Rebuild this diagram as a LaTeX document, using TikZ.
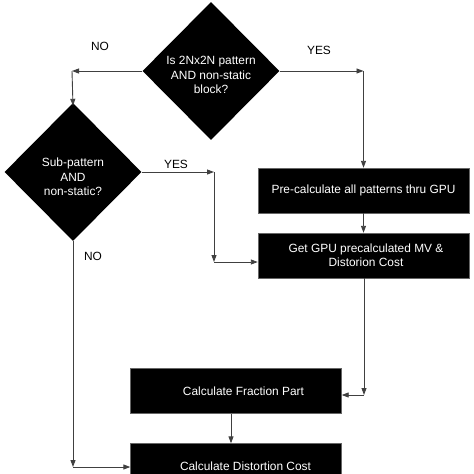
\documentclass[tikz,border=0pt]{standalone}
\usepackage{fontspec}
\setmainfont{Liberation Sans}
\usetikzlibrary{shapes.geometric,arrows.meta}
\begin{document}
\begin{tikzpicture}[x=1pt,y=-1pt,
  every node/.style={font=\fontsize{11.9}{14.3}\selectfont},
  dia/.style={diamond, fill=black, text=white, align=center, inner sep=0pt,
    minimum width=137pt, minimum height=138pt},
  procbox/.style={rectangle, fill=black, draw=black!60, line width=0.4pt, text=white, align=center,
    minimum width=211pt, minimum height=45pt, inner sep=0pt},
  lbl/.style={text=black},
  arr/.style={draw=black!75, line width=0.9pt, -{Triangle[length=7pt,width=5pt]}},
  ln/.style={draw=black!75, line width=0.9pt}]
\useasboundingbox (0,0) rectangle (474,474);
\fill[white] (0,0) rectangle (474,474);

\node[dia] (d1) at (211,71) {\rule{0pt}{16.5pt}Is 2Nx2N pattern\\AND non-static\\block?};
\node[dia] (d2) at (73,172) {\rule{0pt}{18.5pt}Sub-pattern\\AND\\non-static?};
\node[procbox] (b1) at (363.5,190.5) {Pre-calculate all patterns thru GPU};
\node[procbox] (b2) at (363.5,255.5) {\hspace*{5pt}Get GPU precalculated MV \&\\\hspace*{5pt}Distorion Cost};
\node[procbox] (b3) at (236,391) {\hspace*{15pt}Calculate Fraction Part};
\node[procbox] (b4) at (236,466) {\hspace*{19pt}Calculate Distortion Cost};

\node[lbl] (no1) at (100,46) {NO};
\node[lbl] (yes1) at (319,50) {YES};
\node[lbl] (yes2) at (176,164) {YES};
\node[lbl] (no2) at (93,256) {NO};

\coordinate (c1) at (72,71);
\coordinate (c2) at (b1.north |- d1.east);
\coordinate (c3) at (214,172);
\coordinate (c4) at (214,262);
\coordinate (c5) at (73,467);
\coordinate (c6) at (364,395);

\draw[arr] (d1.west) -- (c1);
\draw[arr] (c1) -- ([yshift=-3pt]d2.north);
\draw[arr] (d1.east) -- (c2);
\draw[arr] (c2) -- (b1.north);
\draw[arr] (b1.south) -- (b2.north);
\draw[arr] (d2.east) -- (c3);
\draw[arr] (c3) -- (c4);
\draw[arr] (c4) -- (c4 -| b2.west);
\draw[arr] (d2.south) -- (c5);
\draw[arr] (c5) -- (c5 -| b4.west);
\draw[arr] (b2.south -| c6) -- (c6);
\draw[arr] (c6) -- (c6 -| b3.east);
\draw[arr] ([xshift=-5pt]b3.south) -- ([xshift=-5pt]b4.north);
\end{tikzpicture}
\end{document}
